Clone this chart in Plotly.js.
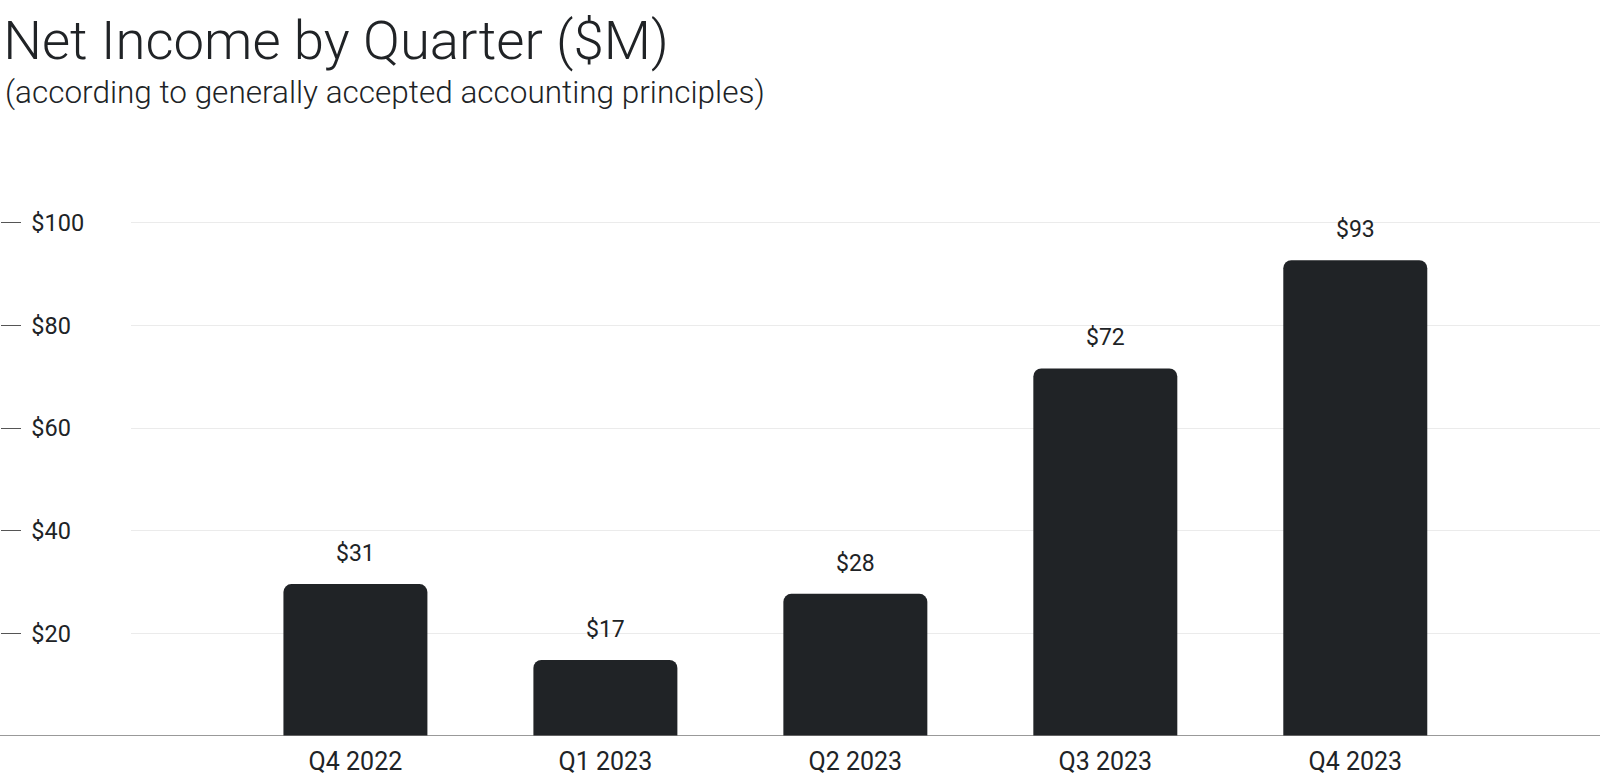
<!DOCTYPE html>
<html>
<head>
<meta charset="utf-8">
<script src="https://cdn.plot.ly/plotly-3.0.1.min.js"></script>
<style>
  html, body { margin: 0; padding: 0; background: #ffffff; }
  #chart { width: 1600px; height: 779px; }
</style>
</head>
<body>
<div id="chart"></div>
<script>
// ---- data ----
const quarters = ["Q4 2022", "Q1 2023", "Q2 2023", "Q3 2023", "Q4 2023"];
const netIncome = [29.6, 14.8, 27.7, 71.6, 92.7];
const valueLabels = ["$31", "$17", "$28", "$72", "$93"];
const yTickVals = [20, 40, 60, 80, 100];
const yTickText = ["$20", "$40", "$60", "$80", "$100"];
const titleText = "Net Income by Quarter ($M)";
const subtitleText = "(according to generally accepted accounting principles)";

// ---- style ----
const INK = "#202326";
const FONT = "Roboto, 'Liberation Sans', sans-serif";

const trace = {
  type: "bar",
  x: quarters,
  y: netIncome,
  marker: { color: INK, cornerradius: 8, line: { width: 0 } },
  hoverinfo: "skip",
  showlegend: false
};

const labelAnnotations = quarters.map((q, i) => ({
  x: q,
  y: netIncome[i],
  xref: "x",
  yref: "y",
  text: valueLabels[i],
  showarrow: false,
  yanchor: "bottom",
  xanchor: "center",
  yshift: 15,
  font: { family: FONT, size: 23, color: INK }
}));

const layout = {
  width: 1600,
  height: 779,
  paper_bgcolor: "#ffffff",
  plot_bgcolor: "#ffffff",
  margin: { l: 0, r: 0, t: 197, b: 43, pad: 0 },
  bargap: 0.424,
  font: { family: FONT, color: INK },
  title: {
    text: titleText,
    x: 0.002,
    xref: "container",
    xanchor: "left",
    y: 1 - 40 / 779,
    yref: "container",
    yanchor: "middle",
    font: { family: FONT, size: 54.5, color: INK, weight: 300 }
  },
  xaxis: {
    domain: [0.082, 1],
    range: [-0.897, 4.979],
    type: "category",
    showgrid: false,
    zeroline: false,
    showline: false,
    ticks: "",
    tickfont: { family: FONT, size: 25, color: INK },
    ticklabelstandoff: 8,
    fixedrange: true
  },
  yaxis: {
    anchor: "free",
    position: 0,
    range: [0, 105],
    tickmode: "array",
    tickvals: yTickVals,
    ticktext: yTickText,
    ticks: "inside",
    ticklen: 20,
    tickwidth: 1,
    tickcolor: "#555555",
    ticklabelposition: "inside",
    ticklabelstandoff: 12,
    tickfont: { family: FONT, size: 23.5, color: INK },
    showgrid: true,
    gridcolor: "#ebebeb",
    gridwidth: 1,
    zeroline: false,
    showline: false,
    fixedrange: true
  },
  shapes: [
    {
      type: "line",
      xref: "paper",
      yref: "y",
      x0: 0,
      x1: 1,
      y0: 0,
      y1: 0,
      line: { color: "#777777", width: 1.5 },
      layer: "above"
    }
  ],
  annotations: labelAnnotations.concat([
    {
      text: subtitleText,
      xref: "paper",
      yref: "paper",
      x: 0.002,
      y: (736 - 92) / 539,
      xanchor: "left",
      yanchor: "middle",
      showarrow: false,
      font: { family: FONT, size: 31.5, color: INK, weight: 300 }
    }
  ])
};

Plotly.newPlot("chart", [trace], layout, { displayModeBar: false, staticPlot: true });
</script>
</body>
</html>
